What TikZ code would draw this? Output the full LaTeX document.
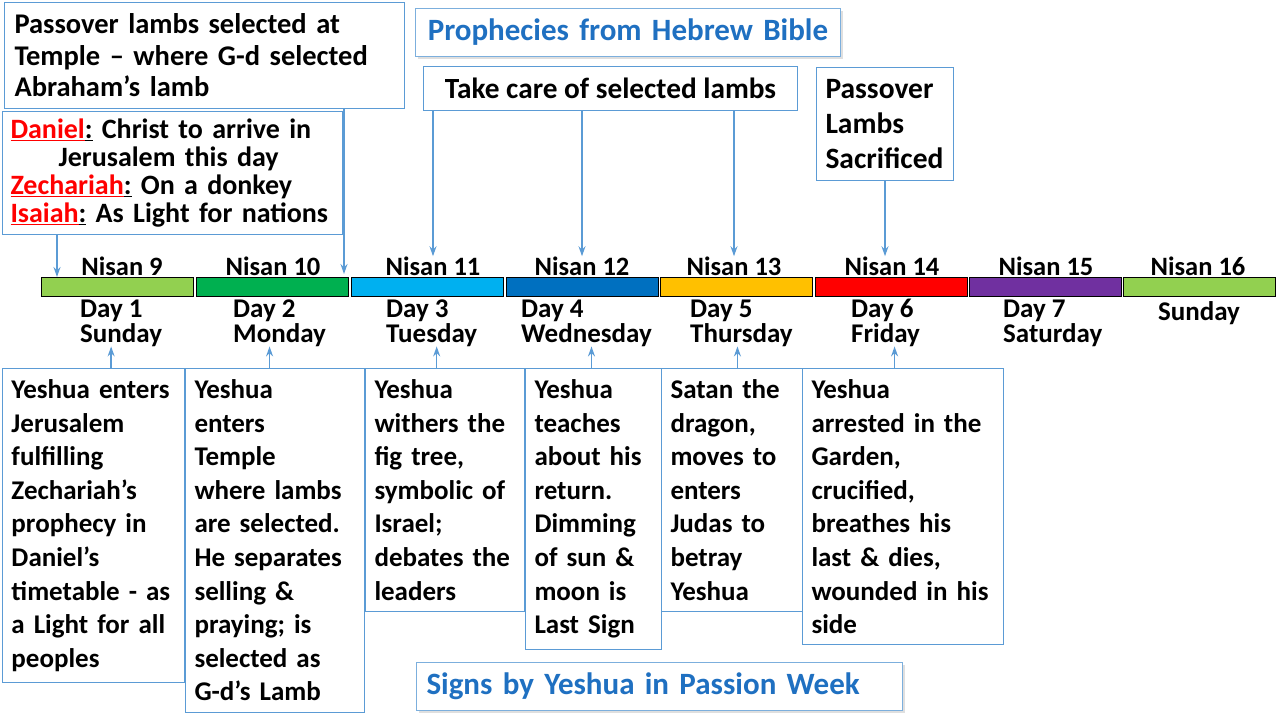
\documentclass[tikz,border=0pt]{standalone}
\usepackage{fontspec}
\setmainfont{Carlito}
\usetikzlibrary{arrows.meta,shadows}

\definecolor{boxline}{RGB}{91,155,213}
\definecolor{headblue}{RGB}{31,112,193}
\definecolor{limegreen}{RGB}{146,208,80}
\definecolor{leafgreen}{RGB}{0,176,80}
\definecolor{skyblue}{RGB}{0,176,240}
\definecolor{seablue}{RGB}{0,112,192}
\definecolor{amber}{RGB}{255,192,0}
\definecolor{grape}{RGB}{112,48,160}

\tikzset{
  notebox/.style={draw=boxline, line width=1pt, fill=white, anchor=north west, align=left, inner xsep=9pt, inner ysep=6pt},
  headbox/.style={draw=boxline!80, line width=1pt, fill=white, drop shadow={opacity=0.25,shadow xshift=2pt,shadow yshift=-2pt}, anchor=north west, align=left, inner xsep=10pt, minimum height=48pt, text=headblue, font=\bfseries\fontsize{31}{34}\selectfont},
  signfont/.style={font=\bfseries\fontsize{27}{33.6}\selectfont},
  nisanbar/.style={draw=black, line width=1pt, minimum width=152pt, minimum height=19pt, anchor=north west, inner sep=0pt},
  nisanlabel/.style={anchor=base, inner sep=0pt, font=\bfseries\fontsize{26.5}{30}\selectfont},
  daylabel/.style={anchor=base west, align=left, inner sep=0pt, font=\bfseries\fontsize{27}{25}\selectfont},
  conn/.style={draw=boxline, line width=1.4pt, -{Stealth[length=10pt,width=7pt]}}
}

\begin{document}
\begin{tikzpicture}[x=1pt,y=1pt,yscale=-1,xscale=1]
\useasboundingbox (0,0) rectangle (1280,720);

% Prophecy boxes
\draw (4,2) node [notebox, text width=380pt, inner xsep=10pt, inner ysep=11.5pt, font=\bfseries\fontsize{28.5}{31.5}\selectfont] (temple) {Passover lambs selected at\\Temple – where G-d selected\\Abraham’s lamb};
\draw (2,111) node [notebox, text width=324pt, inner xsep=8pt, inner ysep=7.5pt, font=\bfseries\fontsize{28}{28}\selectfont] (daniel) {\textcolor{red}{\underline{Daniel}}\underline{:} Christ to arrive in\\\hspace*{48pt}Jerusalem this day\\\textcolor{red}{\underline{Zechariah}}\underline{:} On a donkey\\\textcolor{red}{\underline{Isaiah}}\underline{:} As Light for nations};
\draw (415,8) node [headbox, text width=405pt, align=center] (prophecy) {Prophecies from Hebrew Bible};
\draw (423,66) node [notebox, align=center, minimum width=374pt, minimum height=44pt, font=\bfseries\fontsize{29.3}{32}\selectfont] (care) {Take care of selected lambs};
\draw (816,67) node [notebox, text width=119pt, inner ysep=12pt, font=\bfseries\fontsize{29.5}{35}\selectfont] (sacrificed) {Passover\\Lambs\\Sacrificed};

% Timeline bars
\draw (41,277) node [nisanbar, fill=limegreen] (bar9) {};
\draw (196,277) node [nisanbar, fill=leafgreen] (bar10) {};
\draw (351,277) node [nisanbar, fill=skyblue] (bar11) {};
\draw (506,277) node [nisanbar, fill=seablue] (bar12) {};
\draw (660,277) node [nisanbar, fill=amber] (bar13) {};
\draw (815,277) node [nisanbar, fill=red] (bar14) {};
\draw (969,277) node [nisanbar, fill=grape] (bar15) {};
\draw (1123,277) node [nisanbar, fill=limegreen] (bar16) {};

% Nisan labels
\draw (122,275) node [nisanlabel] (nis9) {Nisan 9};
\draw (273,275) node [nisanlabel] (nis10) {Nisan 10};
\draw (433,275) node [nisanlabel] (nis11) {Nisan 11};
\draw (582,275) node [nisanlabel] (nis12) {Nisan 12};
\draw (734,275) node [nisanlabel] (nis13) {Nisan 13};
\draw (892,275) node [nisanlabel] (nis14) {Nisan 14};
\draw (1046,275) node [nisanlabel] (nis15) {Nisan 15};
\draw (1198,275) node [nisanlabel] (nis16) {Nisan 16};

% Day labels
\draw (80,342) node [daylabel] (day1) {Day 1\\Sunday};
\draw (233,342) node [daylabel] (day2) {Day 2\\Monday};
\draw (386,342) node [daylabel] (day3) {Day 3\\Tuesday};
\draw (521,342) node [daylabel] (day4) {Day 4\\Wednesday};
\draw (690,342) node [daylabel] (day5) {Day 5\\Thursday};
\draw (851,342) node [daylabel] (day6) {Day 6\\Friday};
\draw (1003,342) node [daylabel] (day7) {Day 7\\Saturday};
\draw (1199,320) node [daylabel, anchor=base] (day8) {Sunday};

% Sign boxes
\draw (2,368) node [notebox, signfont, text width=164pt, inner ysep=11pt] (sign1) {Yeshua enters\\Jerusalem\\fulfilling\\Zechariah’s\\prophecy in\\Daniel’s\\timetable - as\\a Light for all\\peoples};
\draw (185,368) node [notebox, signfont, text width=161pt, inner ysep=11pt] (sign2) {Yeshua\\enters\\Temple\\where lambs\\are selected.\\He separates\\selling \&\\praying; is\\selected as\\G-d’s Lamb};
\draw (365,368) node [notebox, signfont, text width=141pt, inner ysep=11pt] (sign3) {Yeshua\\withers the\\fig tree,\\symbolic of\\Israel;\\debates the\\leaders};
\draw (525,368) node [notebox, signfont, text width=118pt, inner ysep=11pt] (sign4) {Yeshua\\teaches\\about his\\return.\\Dimming\\of sun \&\\moon is\\Last Sign};
\draw (661,368) node [notebox, signfont, text width=123pt, inner ysep=11pt] (sign5) {Satan the\\dragon,\\moves to\\enters\\Judas to\\betray\\Yeshua};
\draw (802,368) node [notebox, signfont, text width=183pt, inner ysep=11pt] (sign6) {Yeshua\\arrested in the\\Garden,\\crucified,\\breathes his\\last \& dies,\\wounded in his\\side};
\draw (416,662) node [headbox, text width=466pt] (signs) {Signs by Yeshua in Passion Week};

%Connectors down
\coordinate (dtip) at (57,277);
\coordinate (ttip) at (344,274);
\draw [conn] (daniel.south -| dtip) -- (dtip);
\draw [conn] (temple.south -| ttip) -- (ttip);
\draw [conn] (care.south -| nis11.north) -- (nis11.north);
\draw [conn] (care.south -| nis12.north) -- (nis12.north);
\draw [conn] (care.south -| nis13.north) -- (nis13.north);
\draw [conn] (sacrificed.south) -- (sacrificed.south |- nis14.north);

%Connectors up
\coordinate (up1) at ([xshift=-10pt]day1.south);
\coordinate (up2) at ([xshift=-10pt]day2.south);
\coordinate (up3) at ([xshift=5pt]day3.south);
\coordinate (up4) at ([xshift=5pt]day4.south);
\coordinate (up5) at ([xshift=-4pt]day5.south);
\coordinate (up6) at ([xshift=9pt]day6.south);
\draw [conn] (sign1.north -| up1) -- (up1);
\draw [conn] (sign2.north -| up2) -- (up2);
\draw [conn] (sign3.north -| up3) -- (up3);
\draw [conn] (sign4.north -| up4) -- (up4);
\draw [conn] (sign5.north -| up5) -- (up5);
\draw [conn] (sign6.north -| up6) -- (up6);

\end{tikzpicture}
\end{document}
